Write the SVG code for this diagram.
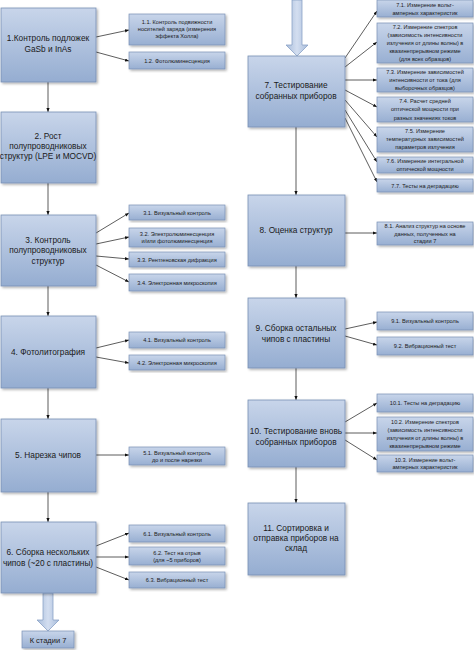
<svg xmlns="http://www.w3.org/2000/svg" width="474" height="650" viewBox="0 0 474 650">
<defs>
<linearGradient id="gm" x1="0" y1="0" x2="0" y2="1"><stop offset="0" stop-color="#c8d5ea"/><stop offset="1" stop-color="#95add1"/></linearGradient>
<linearGradient id="gs" x1="0" y1="0" x2="0" y2="1"><stop offset="0" stop-color="#c8d5ea"/><stop offset="1" stop-color="#98afd2"/></linearGradient>
<linearGradient id="ga" x1="0" y1="0" x2="1" y2="0"><stop offset="0" stop-color="#a9bddb"/><stop offset="0.5" stop-color="#d3def0"/><stop offset="1" stop-color="#a9bddb"/></linearGradient>
<filter id="sh" x="-10%" y="-10%" width="130%" height="130%"><feDropShadow dx="1.5" dy="1.5" stdDeviation="1" flood-color="#000" flood-opacity="0.3"/></filter>
<marker id="ar" viewBox="0 0 10 10" refX="10" refY="5" markerWidth="5" markerHeight="5" orient="auto"><path d="M0,1 L10,5 L0,9 z" fill="#111"/></marker>
</defs>
<style>
.m{fill:url(#gm);stroke:#7890b5;stroke-width:0.8;filter:url(#sh)}
.s{fill:url(#gs);stroke:#7890b5;stroke-width:0.7;filter:url(#sh)}
.mt{font-family:"Liberation Sans",Arial,sans-serif;font-size:8.3px;fill:#1a1a1a;text-anchor:middle}
.st{font-family:"Liberation Sans",Arial,sans-serif;font-size:5.6px;fill:#1a1a1a;text-anchor:middle}
.c{stroke:#333;stroke-width:0.8;fill:none;marker-end:url(#ar)}
.big{fill:url(#ga);stroke:#8aa2c6;stroke-width:0.8}
</style>

<g id="connectors">
<line class="c" x1="48" y1="82" x2="48" y2="112"/>
<line class="c" x1="48" y1="183" x2="48" y2="215"/>
<line class="c" x1="48" y1="286" x2="48" y2="316"/>
<line class="c" x1="48" y1="388" x2="48" y2="419"/>
<line class="c" x1="48" y1="492" x2="48" y2="522"/>
<line class="c" x1="96" y1="37" x2="129" y2="30"/>
<line class="c" x1="96" y1="52" x2="129" y2="61"/>
<line class="c" x1="96" y1="233" x2="129" y2="213"/>
<line class="c" x1="96" y1="244" x2="129" y2="237"/>
<line class="c" x1="96" y1="256" x2="129" y2="259"/>
<line class="c" x1="96" y1="265" x2="129" y2="282"/>
<line class="c" x1="96" y1="348" x2="129" y2="340"/>
<line class="c" x1="96" y1="357" x2="129" y2="363"/>
<line class="c" x1="96" y1="455" x2="129" y2="455"/>
<line class="c" x1="96" y1="546" x2="129" y2="533"/>
<line class="c" x1="96" y1="557" x2="129" y2="557"/>
<line class="c" x1="96" y1="567" x2="129" y2="580"/>
<line class="c" x1="296" y1="127" x2="296" y2="195"/>
<line class="c" x1="296" y1="266" x2="296" y2="298"/>
<line class="c" x1="296" y1="368" x2="296" y2="400"/>
<line class="c" x1="296" y1="467" x2="296" y2="503"/>
<line class="c" x1="345" y1="58" x2="377" y2="11"/>
<line class="c" x1="345" y1="67" x2="377" y2="42"/>
<line class="c" x1="345" y1="80" x2="377" y2="80"/>
<line class="c" x1="345" y1="90" x2="377" y2="107"/>
<line class="c" x1="345" y1="100" x2="377" y2="137"/>
<line class="c" x1="345" y1="110" x2="377" y2="162"/>
<line class="c" x1="345" y1="118" x2="377" y2="182"/>
<line class="c" x1="345" y1="233" x2="377" y2="233"/>
<line class="c" x1="345" y1="329" x2="377" y2="322"/>
<line class="c" x1="345" y1="336" x2="377" y2="345"/>
<line class="c" x1="345" y1="422" x2="377" y2="403"/>
<line class="c" x1="345" y1="433" x2="377" y2="433"/>
<line class="c" x1="345" y1="440" x2="377" y2="460"/>
<path class="big" d="M292,0 L302,0 L302,45 L308,45 L297,56 L286,45 L292,45 Z"/>
<path class="big" d="M43,593 L53,593 L53,620 L59,620 L48,631 L37,620 L43,620 Z"/>
</g>

<g id="n1"><rect class="m" x="1" y="8" width="95" height="74"/><text class="mt" x="48" y="41">1.Контроль подложек</text><text class="mt" x="48" y="52">GaSb и InAs</text></g>
<g id="n2"><rect class="m" x="1" y="112" width="95" height="71"/><text class="mt" x="48" y="139">2. Рост</text><text class="mt" x="48" y="149">полупроводниковых</text><text class="mt" x="48" y="159">структур (LPE и MOCVD)</text></g>
<g id="n3"><rect class="m" x="1" y="215" width="95" height="71"/><text class="mt" x="48" y="243">3. Контроль</text><text class="mt" x="48" y="253">полупроводниковых</text><text class="mt" x="48" y="264">структур</text></g>
<g id="n4"><rect class="m" x="1" y="316" width="95" height="72"/><text class="mt" x="48" y="355">4. Фотолитография</text></g>
<g id="n5"><rect class="m" x="1" y="419" width="95" height="73"/><text class="mt" x="48" y="458">5. Нарезка чипов</text></g>
<g id="n6"><rect class="m" x="1" y="522" width="95" height="71"/><text class="mt" x="48" y="555">6. Сборка нескольких</text><text class="mt" x="48" y="566">чипов (~20 с пластины)</text></g>
<g id="n6b"><rect class="s" x="22" y="631" width="52" height="17"/><text class="mt" x="48" y="642.5" style="font-size:7.5px">К стадии 7</text></g>

<g id="s11"><rect class="s" x="129" y="14" width="96" height="31"/><text class="st" x="177" y="24">1.1. Контроль подвижности</text><text class="st" x="177" y="31">носителей заряда (измерения</text><text class="st" x="177" y="38">эффекта Холла)</text></g>
<g id="s12"><rect class="s" x="129" y="52" width="96" height="17"/><text class="st" x="177" y="62.5">1.2. Фотолюминесценция</text></g>
<g id="s31"><rect class="s" x="129" y="205" width="96" height="15"/><text class="st" x="177" y="214.5">3.1. Визуальный контроль</text></g>
<g id="s32"><rect class="s" x="129" y="228" width="96" height="19"/><text class="st" x="177" y="236">3.2. Электролюминесценция</text><text class="st" x="177" y="243">и/или фотолюминесценция</text></g>
<g id="s33"><rect class="s" x="129" y="252" width="96" height="15"/><text class="st" x="177" y="261.5">3.3. Рентгеновская дифракция</text></g>
<g id="s34"><rect class="s" x="129" y="274" width="96" height="17"/><text class="st" x="177" y="284.5">3.4. Электронная микроскопия</text></g>
<g id="s41"><rect class="s" x="129" y="332" width="96" height="16"/><text class="st" x="177" y="342">4.1. Визуальный контроль</text></g>
<g id="s42"><rect class="s" x="129" y="355" width="96" height="15"/><text class="st" x="177" y="364.5">4.2. Электронная микроскопия</text></g>
<g id="s51"><rect class="s" x="129" y="447" width="96" height="18"/><text class="st" x="177" y="454.5">5.1. Визуальный контроль</text><text class="st" x="177" y="461.5">до и после нарезки</text></g>
<g id="s61"><rect class="s" x="129" y="525" width="96" height="17"/><text class="st" x="177" y="535.5">6.1. Визуальный контроль</text></g>
<g id="s62"><rect class="s" x="129" y="547" width="96" height="18"/><text class="st" x="177" y="554.5">6.2. Тест на отрыв</text><text class="st" x="177" y="561.5">(для ~5 приборов)</text></g>
<g id="s63"><rect class="s" x="129" y="572" width="96" height="16"/><text class="st" x="177" y="582">6.3. Вибрационный тест</text></g>

<g id="n7"><rect class="m" x="248" y="56" width="97" height="71"/><text class="mt" x="296" y="88">7. Тестирование</text><text class="mt" x="296" y="99">собранных приборов</text></g>
<g id="n8"><rect class="m" x="248" y="195" width="97" height="71"/><text class="mt" x="296" y="233">8. Оценка структур</text></g>
<g id="n9"><rect class="m" x="248" y="298" width="97" height="70"/><text class="mt" x="296" y="331">9. Сборка остальных</text><text class="mt" x="296" y="342">чипов с пластины</text></g>
<g id="n10"><rect class="m" x="248" y="400" width="97" height="67"/><text class="mt" x="296" y="434">10. Тестирование вновь</text><text class="mt" x="296" y="445">собранных приборов</text></g>
<g id="n11"><rect class="m" x="248" y="503" width="97" height="72"/><text class="mt" x="296" y="531">11. Сортировка и</text><text class="mt" x="296" y="541">отправка приборов на</text><text class="mt" x="296" y="551">склад</text></g>

<g id="s71"><rect class="s" x="377" y="0" width="96" height="17"/><text class="st" x="425" y="7">7.1. Измерение вольт-</text><text class="st" x="425" y="14.5">амперных характеристик</text></g>
<g id="s72"><rect class="s" x="377" y="23" width="96" height="40"/><text class="st" x="425" y="29">7.2. Измерение спектров</text><text class="st" x="425" y="37">(зависимость интенсивности</text><text class="st" x="425" y="45">излучения от длины волны) в</text><text class="st" x="425" y="53">квазинепрерывном режиме</text><text class="st" x="425" y="61">(для всех образцов)</text></g>
<g id="s73"><rect class="s" x="377" y="68" width="96" height="24"/><text class="st" x="425" y="74">7.3. Измерение зависимостей</text><text class="st" x="425" y="82">интенсивности от тока (для</text><text class="st" x="425" y="90">выборочных образцов)</text></g>
<g id="s74"><rect class="s" x="377" y="97" width="96" height="25"/><text class="st" x="425" y="103">7.4. Расчет средней</text><text class="st" x="425" y="111">оптической мощности при</text><text class="st" x="425" y="119.5">разных значениях токов</text></g>
<g id="s75"><rect class="s" x="377" y="127" width="96" height="25"/><text class="st" x="425" y="133">7.5. Измерение</text><text class="st" x="425" y="141">температурных зависимостей</text><text class="st" x="425" y="149">параметров излучения</text></g>
<g id="s76"><rect class="s" x="377" y="157" width="96" height="16"/><text class="st" x="425" y="163">7.6. Измерение интегральной</text><text class="st" x="425" y="170.5">оптической  мощности</text></g>
<g id="s77"><rect class="s" x="377" y="179" width="96" height="13"/><text class="st" x="425" y="187.5">7.7. Тесты на деградацию</text></g>
<g id="s81"><rect class="s" x="377" y="222" width="96" height="23"/><text class="st" x="425" y="228">8.1. Анализ структур на основе</text><text class="st" x="425" y="235.5">данных, полученных на</text><text class="st" x="425" y="243">стадии 7</text></g>
<g id="s91"><rect class="s" x="377" y="312" width="96" height="18"/><text class="st" x="425" y="323">9.1. Визуальный контроль</text></g>
<g id="s92"><rect class="s" x="377" y="337" width="96" height="18"/><text class="st" x="425" y="348">9.2. Вибрационный тест</text></g>
<g id="s101"><rect class="s" x="377" y="394" width="96" height="18"/><text class="st" x="425" y="405">10.1. Тесты на деградацию</text></g>
<g id="s102"><rect class="s" x="377" y="417" width="96" height="34"/><text class="st" x="425" y="423.5">10.2.  Измерение спектров</text><text class="st" x="425" y="431.5">(зависимость интенсивности</text><text class="st" x="425" y="439.5">излучения от длины волны) в</text><text class="st" x="425" y="447.5">квазинепрерывном режиме</text></g>
<g id="s103"><rect class="s" x="377" y="455" width="96" height="17"/><text class="st" x="425" y="461.5">10.3. Измерение вольт-</text><text class="st" x="425" y="469">амперных характеристик</text></g>
</svg>
